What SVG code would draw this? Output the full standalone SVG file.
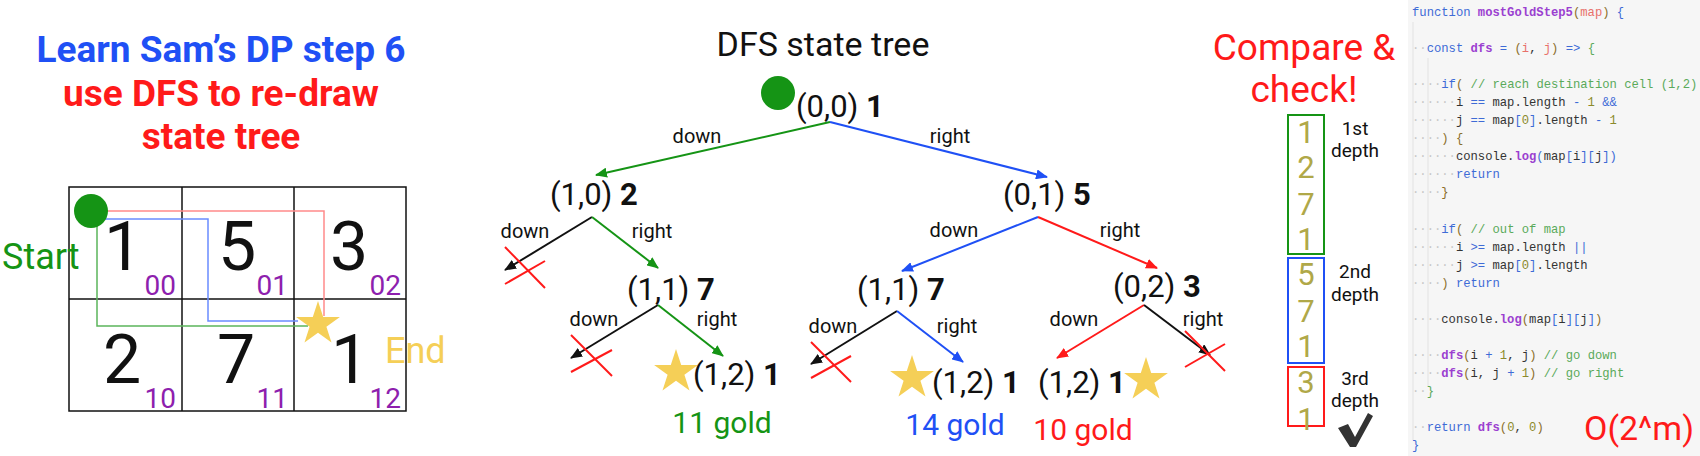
<svg xmlns="http://www.w3.org/2000/svg" width="1700" height="456" viewBox="0 0 1700 456">
<style>
text{font-family:Roboto,"Liberation Sans",sans-serif}
.node{font-size:31px;fill:#111}
.node tspan.b{font-weight:bold}
.lbl{font-size:20px;fill:#111;text-anchor:middle}
.e{fill:none;stroke-width:2}
.x{stroke:#ff1a1a;stroke-width:2}
.big{font-size:68px;fill:#111;text-anchor:middle}
.sub{font-size:28px;fill:#8e1fae;text-anchor:end}
.cd{font-family:"Liberation Mono","DejaVu Sans Mono",monospace;font-size:12.2px;fill:#333}
.dt{fill:#c8c8c8}.kw{fill:#3e6bd6}.fn{fill:#9b3fd0;font-weight:bold}.pa{fill:#e8706a}.cm{fill:#5aaa5a}.nu{fill:#8c8a2a}.br{fill:#3e6bd6}.pr{fill:#8a6d2a}
.dg{font-size:31px;fill:#b0a848;text-anchor:middle}
.dp{font-size:19px;fill:#111;text-anchor:middle}
</style>
<defs>
<marker id="ak" markerWidth="12" markerHeight="10" refX="11" refY="5" orient="auto" markerUnits="userSpaceOnUse"><path d="M0,0L12,5L0,10z" fill="#111"/></marker>
<marker id="ag" markerWidth="12" markerHeight="10" refX="11" refY="5" orient="auto" markerUnits="userSpaceOnUse"><path d="M0,0L12,5L0,10z" fill="#159415"/></marker>
<marker id="ab" markerWidth="12" markerHeight="10" refX="11" refY="5" orient="auto" markerUnits="userSpaceOnUse"><path d="M0,0L12,5L0,10z" fill="#1f50f5"/></marker>
<marker id="ar" markerWidth="12" markerHeight="10" refX="11" refY="5" orient="auto" markerUnits="userSpaceOnUse"><path d="M0,0L12,5L0,10z" fill="#ff1a1a"/></marker>
<polygon id="star" points="0,-23 5.2,-7.1 21.9,-7.1 8.4,2.7 13.5,18.6 0,8.8 -13.5,18.6 -8.4,2.7 -21.9,-7.1 -5.2,-7.1" fill="#f5cf57"/>
</defs>
<rect width="1700" height="456" fill="#fff"/>

<g id="title-left" font-weight="bold" font-size="37" text-anchor="middle">
<text x="221" y="62" fill="#1f50f5">Learn Sam’s DP step 6</text>
<text x="221" y="106" fill="#ff1a1a">use DFS to re-draw</text>
<text x="221" y="149" fill="#ff1a1a">state tree</text>
</g>

<g id="grid">
<rect x="69" y="187" width="337" height="224" fill="none" stroke="#111" stroke-width="1.5"/>
<line x1="182" y1="187" x2="182" y2="411" stroke="#111" stroke-width="1.5"/>
<line x1="294" y1="187" x2="294" y2="411" stroke="#111" stroke-width="1.5"/>
<line x1="69" y1="299" x2="406" y2="299" stroke="#111" stroke-width="1.5"/>
<text class="big" x="123" y="270">1</text><text class="sub" x="176" y="295">00</text>
<text class="big" x="237" y="270">5</text><text class="sub" x="288" y="295">01</text>
<text class="big" x="349" y="270">3</text><text class="sub" x="401" y="295">02</text>
<text class="big" x="122" y="383">2</text><text class="sub" x="176" y="408">10</text>
<text class="big" x="236" y="383">7</text><text class="sub" x="288" y="408">11</text>
<text class="big" x="350" y="383">1</text><text class="sub" x="401" y="408">12</text>
<path d="M100,211H324V316" fill="none" stroke="#ff8a8a" stroke-width="1.5"/>
<path d="M100,219H208V321H298" fill="none" stroke="#6a8cff" stroke-width="1.5"/>
<path d="M97,222V326H308" fill="none" stroke="#5bb55b" stroke-width="1.5"/>
<circle cx="91" cy="211" r="17" fill="#159415"/>
<use href="#star" x="318" y="324"/>
<text x="2" y="269" font-size="36" fill="#159415">Start</text>
<text x="385" y="363" font-size="36" fill="#f5cf57">End</text>
</g>

<text id="title-tree" x="823" y="56" font-size="34" fill="#111" text-anchor="middle">DFS state tree</text>

<g id="connectors">
<line class="e" x1="830" y1="122" x2="596" y2="175" stroke="#159415" marker-end="url(#ag)"/>
<line class="e" x1="830" y1="122" x2="1047" y2="177" stroke="#1f50f5" marker-end="url(#ab)"/>
<line class="e" x1="592" y1="217" x2="505" y2="270" stroke="#111" marker-end="url(#ak)"/>
<line class="e" x1="592" y1="217" x2="658" y2="268" stroke="#159415" marker-end="url(#ag)"/>
<line class="e" x1="1038" y1="217" x2="902" y2="271" stroke="#1f50f5" marker-end="url(#ab)"/>
<line class="e" x1="1038" y1="217" x2="1157" y2="268" stroke="#ff1a1a" marker-end="url(#ar)"/>
<line class="e" x1="658" y1="305" x2="571" y2="358" stroke="#111" marker-end="url(#ak)"/>
<line class="e" x1="658" y1="305" x2="723" y2="356" stroke="#159415" marker-end="url(#ag)"/>
<line class="e" x1="897" y1="311" x2="811" y2="364" stroke="#111" marker-end="url(#ak)"/>
<line class="e" x1="897" y1="311" x2="963" y2="362" stroke="#1f50f5" marker-end="url(#ab)"/>
<line class="e" x1="1144" y1="305" x2="1057" y2="358" stroke="#ff1a1a" marker-end="url(#ar)"/>
<line class="e" x1="1144" y1="305" x2="1210" y2="355" stroke="#111" marker-end="url(#ak)"/>
<text class="lbl" x="697" y="143">down</text>
<text class="lbl" x="950" y="143">right</text>
<text class="lbl" x="525" y="238">down</text>
<text class="lbl" x="652" y="238">right</text>
<text class="lbl" x="954" y="237">down</text>
<text class="lbl" x="1120" y="237">right</text>
<text class="lbl" x="594" y="326">down</text>
<text class="lbl" x="717" y="326">right</text>
<text class="lbl" x="833" y="333">down</text>
<text class="lbl" x="957" y="333">right</text>
<text class="lbl" x="1074" y="326">down</text>
<text class="lbl" x="1203" y="326">right</text>
</g>

<g id="crosses">
<line class="x" x1="505" y1="247" x2="545" y2="288"/><line class="x" x1="505" y1="284" x2="545" y2="261"/>
<line class="x" x1="571" y1="335" x2="612" y2="376"/><line class="x" x1="571" y1="372" x2="612" y2="350"/>
<line class="x" x1="811" y1="342" x2="851" y2="382"/><line class="x" x1="811" y1="378" x2="851" y2="356"/>
<line class="x" x1="1185" y1="331" x2="1225" y2="371"/><line class="x" x1="1185" y1="367" x2="1225" y2="344"/>
</g>

<g id="n00"><circle cx="778" cy="93" r="17" fill="#159415"/><text class="node" x="796" y="117">(0,0) <tspan class="b">1</tspan></text></g>
<g id="n10"><text class="node" x="550" y="205">(1,0) <tspan class="b">2</tspan></text></g>
<g id="n01"><text class="node" x="1003" y="205">(0,1) <tspan class="b">5</tspan></text></g>
<g id="n11a"><text class="node" x="627" y="300">(1,1) <tspan class="b">7</tspan></text></g>
<g id="n11b"><text class="node" x="857" y="300">(1,1) <tspan class="b">7</tspan></text></g>
<g id="n02"><text class="node" x="1113" y="297">(0,2) <tspan class="b">3</tspan></text></g>
<g id="n12a"><use href="#star" x="676" y="372"/><text class="node" x="693" y="385">(1,2) <tspan class="b">1</tspan></text>
<text x="722" y="433" font-size="30" fill="#159415" text-anchor="middle">11 gold</text></g>
<g id="n12b"><use href="#star" x="912" y="378"/><text class="node" x="932" y="393">(1,2) <tspan class="b">1</tspan></text>
<text x="955" y="435" font-size="30" fill="#1f50f5" text-anchor="middle">14 gold</text></g>
<g id="n12c"><text class="node" x="1038" y="393">(1,2) <tspan class="b">1</tspan></text><use href="#star" x="1146" y="380"/>
<text x="1083" y="440" font-size="30" fill="#ff1a1a" text-anchor="middle">10 gold</text></g>

<g id="compare">
<text x="1304" y="60" font-size="37" fill="#ff1a1a" text-anchor="middle">Compare &amp;</text>
<text x="1304" y="102" font-size="37" fill="#ff1a1a" text-anchor="middle">check!</text>
<rect x="1288" y="115" width="36" height="139" fill="none" stroke="#159415" stroke-width="2"/>
<rect x="1288" y="258" width="36" height="105" fill="none" stroke="#1f50f5" stroke-width="2"/>
<rect x="1288" y="367" width="36" height="59" fill="none" stroke="#ff1a1a" stroke-width="2"/>
<text class="dg" x="1306" y="143">1</text><text class="dg" x="1306" y="178">2</text><text class="dg" x="1306" y="215">7</text><text class="dg" x="1306" y="250">1</text>
<text class="dg" x="1306" y="285">5</text><text class="dg" x="1306" y="322">7</text><text class="dg" x="1306" y="357">1</text>
<text class="dg" x="1306" y="393">3</text><text class="dg" x="1306" y="430">1</text>
<text class="dp" x="1355" y="135">1st</text><text class="dp" x="1355" y="157">depth</text>
<text class="dp" x="1355" y="278">2nd</text><text class="dp" x="1355" y="301">depth</text>
<text class="dp" x="1355" y="385">3rd</text><text class="dp" x="1355" y="407">depth</text>
<path d="M1338,428L1348,424L1355,437L1368,413L1373,416L1356,447L1350,447Z" fill="#333"/>
</g>

<g id="code">
<rect x="1408" y="0" width="292" height="456" fill="#f6f6f6"/>
<g stroke="#e2e2e2" stroke-width="1">
<line x1="1413" y1="22" x2="1413" y2="440"/>
<line x1="1428" y1="58" x2="1428" y2="386"/>
</g>
<text class="cd" x="1412" y="16"><tspan class="kw">function</tspan> <tspan class="fn">mostGoldStep5</tspan><tspan class="pr">(</tspan><tspan class="pa">map</tspan><tspan class="pr">)</tspan> <tspan class="br">{</tspan></text>
<text class="cd" x="1412" y="52"><tspan class="dt">··</tspan><tspan class="kw">const</tspan> <tspan class="fn">dfs</tspan> <tspan class="kw">=</tspan> <tspan class="pr">(</tspan><tspan class="pa">i</tspan>, <tspan class="pa">j</tspan><tspan class="pr">)</tspan> <tspan class="kw">=&gt;</tspan> <tspan class="cm">{</tspan></text>
<text class="cd" x="1412" y="88"><tspan class="dt">····</tspan><tspan class="kw">if</tspan><tspan class="pr">(</tspan> <tspan class="cm">// reach destination cell (1,2)</tspan></text>
<text class="cd" x="1412" y="106"><tspan class="dt">······</tspan>i <tspan class="kw">==</tspan> map.length <tspan class="kw">-</tspan> <tspan class="nu">1</tspan> <tspan class="kw">&amp;&amp;</tspan></text>
<text class="cd" x="1412" y="124"><tspan class="dt">······</tspan>j <tspan class="kw">==</tspan> map<tspan class="br">[</tspan><tspan class="nu">0</tspan><tspan class="br">]</tspan>.length <tspan class="kw">-</tspan> <tspan class="nu">1</tspan></text>
<text class="cd" x="1412" y="142"><tspan class="dt">····</tspan><tspan class="pr">)</tspan> <tspan class="pr">{</tspan></text>
<text class="cd" x="1412" y="160"><tspan class="dt">······</tspan>console.<tspan class="fn">log</tspan><tspan class="kw">(</tspan>map<tspan class="br">[</tspan>i<tspan class="br">][</tspan>j<tspan class="br">]</tspan><tspan class="kw">)</tspan></text>
<text class="cd" x="1412" y="178"><tspan class="dt">······</tspan><tspan class="kw">return</tspan></text>
<text class="cd" x="1412" y="196"><tspan class="dt">····</tspan><tspan class="pr">}</tspan></text>
<text class="cd" x="1412" y="233"><tspan class="dt">····</tspan><tspan class="kw">if</tspan><tspan class="pr">(</tspan> <tspan class="cm">// out of map</tspan></text>
<text class="cd" x="1412" y="251"><tspan class="dt">······</tspan>i <tspan class="kw">&gt;=</tspan> map.length <tspan class="kw">||</tspan></text>
<text class="cd" x="1412" y="269"><tspan class="dt">······</tspan>j <tspan class="kw">&gt;=</tspan> map<tspan class="br">[</tspan><tspan class="nu">0</tspan><tspan class="br">]</tspan>.length</text>
<text class="cd" x="1412" y="287"><tspan class="dt">····</tspan><tspan class="pr">)</tspan> <tspan class="kw">return</tspan></text>
<text class="cd" x="1412" y="323"><tspan class="dt">····</tspan>console.<tspan class="fn">log</tspan><tspan class="pr">(</tspan>map<tspan class="br">[</tspan>i<tspan class="br">][</tspan>j<tspan class="br">]</tspan><tspan class="pr">)</tspan></text>
<text class="cd" x="1412" y="359"><tspan class="dt">····</tspan><tspan class="fn">dfs</tspan><tspan class="pr">(</tspan>i <tspan class="kw">+</tspan> <tspan class="nu">1</tspan>, j<tspan class="pr">)</tspan> <tspan class="cm">// go down</tspan></text>
<text class="cd" x="1412" y="377"><tspan class="dt">····</tspan><tspan class="fn">dfs</tspan><tspan class="pr">(</tspan>i, j <tspan class="kw">+</tspan> <tspan class="nu">1</tspan><tspan class="pr">)</tspan> <tspan class="cm">// go right</tspan></text>
<text class="cd" x="1412" y="395"><tspan class="dt">··</tspan><tspan class="cm">}</tspan></text>
<text class="cd" x="1412" y="431"><tspan class="dt">··</tspan><tspan class="kw">return</tspan> <tspan class="fn">dfs</tspan><tspan class="pr">(</tspan><tspan class="nu">0</tspan>, <tspan class="nu">0</tspan><tspan class="pr">)</tspan></text>
<text class="cd" x="1412" y="449"><tspan class="br">}</tspan></text>
<text x="1694" y="440" font-size="34" fill="#ff1a1a" text-anchor="end">O(2^m)</text>
</g>
</svg>
